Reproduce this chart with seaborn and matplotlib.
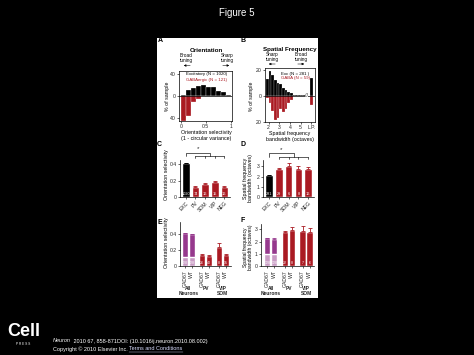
import matplotlib
matplotlib.use("Agg")
import matplotlib.pyplot as plt
import matplotlib.transforms as mtransforms
from matplotlib.patches import Rectangle, FancyArrowPatch
import pandas as pd
import seaborn as sns

W, H = 474, 355

# ---------------- data ----------------
# A: orientation selectivity histogram (bins of 0.1), % of sample
osi_left = [0.0, 0.1, 0.2, 0.3, 0.4, 0.5, 0.6, 0.7, 0.8, 0.9]
osi_exc = [2, 11, 14, 19, 20, 17, 16, 9, 8, 2]
osi_gaba = [46, 36, 11, 6, 0, 0, 0, 0, 0, 0]

# B: spatial frequency bandwidth histogram (bins of 0.25 octaves)
sfb_left = [1.75, 2.0, 2.25, 2.5, 2.75, 3.0, 3.25, 3.5, 3.75, 4.0, 4.25, 4.5, 4.75, 5.0, 5.25]
sfb_exc = [13, 19, 16, 12, 10, 9, 6, 4.5, 3, 2, 1, 1, 0.5, 1, 0.5]
sfb_gaba = [2, 5.5, 12, 19, 17, 10, 12.5, 10, 5.5, 3, 0, 0, 0, 0, 0]
lp_pos = 6.0
lp_exc = 13.5
lp_gaba = 7

# C / D: means per cell type
cell_types = ["EXC", "PV", "SOM", "VIP", "NEG"]
osi_mean = [0.41, 0.12, 0.155, 0.18, 0.12]
osi_err = [0.005, 0.01, 0.02, 0.02, 0.01]
osi_n = ["1020", "74", "16", "15", "16"]
bw_mean = [2.15, 2.75, 2.98, 2.75, 2.75]
bw_err = [0.03, 0.1, 0.3, 0.25, 0.15]
bw_n = ["281", "29", "6", "8", "16"]

# E / F: GAD67-GFP vs WT
groups = ["All\nNeurons", "PV", "VIP\nSOM"]
genotypes = ["GAD67", "WT"]
e_osi = {"GAD67": [0.41, 0.135, 0.235], "WT": [0.395, 0.13, 0.135]}
e_err = {"GAD67": [0.004, 0.01, 0.045], "WT": [0.004, 0.01, 0.015]}
e_n = {"GAD67": ["128", "26", "8"], "WT": ["128", "40", "15"]}
f_bw = {"GAD67": [2.27, 2.75, 2.9], "WT": [2.25, 2.97, 2.8]}
f_err = {"GAD67": [0.03, 0.12, 0.35], "WT": [0.03, 0.2, 0.3]}
f_n = {"GAD67": ["128", "22", "7"], "WT": ["128", "8", "6"]}

BLACK = "#000000"
RED = "#aa1a22"
PURPLE = "#96398d"
LPURPLE = "#c99bc4"

sns.set_style("ticks")
plt.rcParams["font.family"] = ["Liberation Sans", "DejaVu Sans"]
plt.rcParams.update({
    "axes.linewidth": 0.5,
    "xtick.major.width": 0.5, "ytick.major.width": 0.5,
    "xtick.major.size": 1.5, "ytick.major.size": 1.5,
    "xtick.major.pad": 1, "ytick.major.pad": 1,
    "xtick.labelsize": 3.7, "ytick.labelsize": 3.7,
    "axes.edgecolor": "black",
})

fig = plt.figure(figsize=(W / 100, H / 100), dpi=100, facecolor="black")


def pax(x0, y0, x1, y1):
    ax = fig.add_axes([x0 / W, 1 - y1 / H, (x1 - x0) / W, (y1 - y0) / H])
    ax.set_facecolor("white")
    return ax


def ftext(x, y, s, **kw):
    kw.setdefault("color", "black")
    kw.setdefault("ha", "center")
    kw.setdefault("va", "center")
    return fig.text(x / W, 1 - y / H, s, **kw)


def farrow(x0, x1, y):
    fig.add_artist(FancyArrowPatch((x0 / W, 1 - y / H), (x1 / W, 1 - y / H),
                                   transform=fig.transFigure, arrowstyle="-|>",
                                   mutation_scale=3, lw=0.4, color="black",
                                   linestyle=(0, (1, 0.6))))


# white figure panel
fig.add_artist(Rectangle((157 / W, 1 - 298 / H), (318 - 157) / W, (298 - 38) / H,
                         transform=fig.transFigure, facecolor="white",
                         edgecolor="none", zorder=-1))

ftext(237, 13, "Figure 5", color="white", fontsize=7)

# ---------------- A ----------------
axA = pax(179, 71, 232, 121)
axA.bar(osi_left, osi_exc, width=0.1, align="edge", color=BLACK, edgecolor="white", lw=0.2)
axA.bar(osi_left, [-v for v in osi_gaba], width=0.1, align="edge", color=RED, edgecolor="white", lw=0.2)
axA.axhline(0, color="black", lw=0.5)
axA.set_xlim(-0.034, 1.026)
axA.set_ylim(-45.5, 45.5)
axA.set_yticks([-40, 0, 40], ["40", "0", "40"])
axA.set_xticks([0, 0.5, 1], ["0", "0.5", "1"])
ftext(158, 41, "A", fontsize=5, fontweight="bold", ha="left")
ftext(206, 50, "Orientation", fontsize=4.5, fontweight="bold")
ftext(186, 58, "Broad\ntuning", fontsize=3.4, linespacing=1.1)
ftext(227, 58, "Sharp\ntuning", fontsize=3.4, linespacing=1.1)
farrow(193, 181, 65.5)
farrow(220, 232, 65.5)
ftext(186.5, 74.5, "Excitatory (N = 1020)", fontsize=3.2, ha="left")
ftext(186.5, 79.5, "GABAergic (N = 121)", fontsize=3.2, ha="left", color=RED)
ftext(167, 96, "% of sample", fontsize=3.8, rotation=90)
ftext(206, 133, "Orientation selectivity", fontsize=3.8)
ftext(206, 139, "(1 - circular variance)", fontsize=3.8)

# ---------------- B ----------------
axB = pax(265, 68, 315, 122)
axB.bar(sfb_left, sfb_exc, width=0.25, align="edge", color=BLACK, edgecolor="white", lw=0.15)
axB.bar(sfb_left, [-v for v in sfb_gaba], width=0.25, align="edge", color=RED, edgecolor="white", lw=0.15)
axB.bar([lp_pos], [lp_exc], width=0.3, color=BLACK, edgecolor="white", lw=0.15)
axB.bar([lp_pos], [-lp_gaba], width=0.3, color=RED, edgecolor="white", lw=0.15)
axB.axhline(0, color="black", lw=0.5)
axB.text(5.55, 0, "//", fontsize=4, ha="center", va="center",
         bbox=dict(facecolor="white", edgecolor="none", pad=0.1))
axB.set_xlim(1.653, 6.34)
axB.set_ylim(-20.2, 21.5)
axB.set_yticks([-20, 0, 20], ["20", "0", "20"])
axB.set_xticks([2, 3, 4, 5, 6], ["2", "3", "4", "5", "L.P."])
ftext(240, 41, "B", fontsize=5, fontweight="bold", ha="left")
ftext(290, 50, "Spatial Frequency", fontsize=4.5, fontweight="bold")
ftext(272, 57, "Sharp\ntuning", fontsize=3.4, linespacing=1.1)
ftext(301, 57, "Broad\ntuning", fontsize=3.4, linespacing=1.1)
farrow(278, 266, 64)
farrow(295, 307, 64)
ftext(281, 74, "Exc (N = 281 )", fontsize=3.2, ha="left")
ftext(281, 78.5, "GABA (N = 59)", fontsize=3.2, ha="left", color=RED)
ftext(251, 96, "% of sample", fontsize=3.8, rotation=90)
ftext(290, 133.5, "Spatial frequency", fontsize=3.8)
ftext(290, 139.5, "bandwidth (octaves)", fontsize=3.8)


# ---------------- C / D ----------------
def type_bars(ax, means, errs, ns, ylim, ticks, ticklabels, b_top, b_mid, b_tick, star_y):
    pal = [BLACK] + [RED] * 4
    sns.barplot(x=cell_types, y=means, hue=cell_types, palette=pal, legend=False,
                width=0.78, saturation=1, ax=ax)
    for i, (m, e) in enumerate(zip(means, errs)):
        ax.errorbar(i, m, yerr=[[0], [e]], fmt="none", ecolor=pal[i],
                    elinewidth=0.6, capsize=1.2, capthick=0.6)
        ax.text(i, ylim[1] * 0.025, ns[i], color="white", fontsize=2.8,
                ha="center", va="bottom")
    ax.set_ylim(*ylim)
    ax.set_yticks(ticks, ticklabels)
    ax.set_xlim(-0.6, 4.58)
    ax.tick_params(axis="x", rotation=45)
    for lab in ax.get_xticklabels():
        lab.set_ha("right")
        lab.set_rotation_mode("anchor")
    ax.set_xlabel("")
    sns.despine(ax=ax)
    kw = dict(color="black", lw=0.45, clip_on=False)
    ax.plot([0, 0, 2.5, 2.5], [b_mid, b_top, b_top, b_mid], **kw)
    ax.plot([1, 4], [b_mid, b_mid], **kw)
    for i in range(1, 5):
        ax.plot([i, i], [b_mid, b_tick], **kw)
    ax.text(1.25, star_y, "*", fontsize=4.5, ha="center", va="center")


axC = pax(180, 160, 230, 197)
type_bars(axC, osi_mean, osi_err, osi_n, (0, 0.45), [0, 0.2, 0.4], ["0", "0.2", "0.4"],
          0.54, 0.50, 0.47, 0.585)
ftext(157, 145, "C", fontsize=5, fontweight="bold", ha="left")
ftext(166.5, 175, "Orientation selectivity", fontsize=3.8, rotation=90)

axD = pax(263, 160, 314, 197.3)
type_bars(axD, bw_mean, bw_err, bw_n, (0, 3.6), [0, 1, 2, 3], ["0", "1", "2", "3"],
          4.27, 3.9, 3.65, 4.65)
ftext(240, 145, "D", fontsize=5, fontweight="bold", ha="left")
ftext(248, 178, "Spatial frequency\nbandwidth (octaves)", fontsize=3.8, rotation=90,
      linespacing=1.1)


# ---------------- E / F ----------------
def geno_bars(ax, vals, errs, ns, light_h, ylim, ticks, ticklabels, xlim):
    df = pd.DataFrame({
        "group": groups * 2,
        "genotype": [g for g in genotypes for _ in groups],
        "value": vals["GAD67"] + vals["WT"],
    })
    sns.barplot(data=df, x="group", y="value", hue="genotype", order=groups,
                hue_order=genotypes, palette=[RED, RED], legend=False,
                width=0.8, gap=0.12, saturation=1, errorbar=None, ax=ax)
    bar_conts = list(ax.containers)[:len(genotypes)]
    marks = []
    for gi, cont in enumerate(bar_conts):
        g = genotypes[gi]
        for k, bar in enumerate(cont):
            x = bar.get_x() + bar.get_width() / 2
            col = PURPLE if k == 0 else RED
            bar.set_facecolor(col)
            marks.append((x, g, k, col, bar.get_width()))
    for x, g, k, col, w in marks:
        if k == 0:
            ax.bar([x], [light_h], width=w, color=LPURPLE, zorder=2.5)
        ax.errorbar(x, vals[g][k], yerr=[[0], [errs[g][k]]], fmt="none",
                    ecolor=col, elinewidth=0.6, capsize=1.2, capthick=0.6, zorder=3)
        ax.text(x, ylim[1] * 0.03, ns[g][k], color="white", fontsize=2.6,
                ha="center", va="bottom", zorder=4)
    ax.set_xticks([m[0] for m in marks], [m[1] for m in marks], rotation=90)
    ax.set_xlabel("")
    ax.set_ylabel("")
    ax.set_ylim(*ylim)
    ax.set_yticks(ticks, ticklabels)
    ax.set_xlim(*xlim)
    sns.despine(ax=ax)
    tr = mtransforms.blended_transform_factory(ax.transData, fig.transFigure)
    for i, g in enumerate(groups):
        ax.text(i, 1 - 285.5 / H, g, transform=tr, fontsize=3.5, fontweight="bold",
                ha="center", va="top", linespacing=1.2)


axE = pax(180, 221.7, 231, 266.3)
geno_bars(axE, e_osi, e_err, e_n, 0.12, (0, 0.547), [0, 0.2, 0.4], ["0", "0.2", "0.4"],
          (-0.49, 2.5))
ftext(157, 222, "E", fontsize=5, fontweight="bold", ha="left")
ftext(166.5, 243, "Orientation selectivity", fontsize=3.8, rotation=90)

axF = pax(261.3, 223.7, 314, 266.3)
geno_bars(axF, f_bw, f_err, f_n, 1.0, (0, 3.46), [0, 1, 2, 3], ["0", "1", "2", "3"],
          (-0.54, 2.45))
ftext(240, 221, "F", fontsize=5, fontweight="bold", ha="left")
ftext(248, 247, "Spatial frequency\nbandwidth (octaves)", fontsize=3.6, rotation=90,
      linespacing=1.1)

# ---------------- footer ----------------
ftext(7, 331, "Cell", color="white", fontsize=13, fontweight="bold", ha="left")
ftext(23, 344, "P R E S S", color="white", fontsize=2.3)
t1 = ftext(53, 341, "Neuron", color="white", fontsize=4, fontstyle="italic", ha="left")
t2 = ftext(53, 349, "Copyright \u00a9 2010 Elsevier Inc. ", color="white", fontsize=4, ha="left")
fig.canvas.draw()
r = fig.canvas.get_renderer()
e1 = t1.get_window_extent(r)
fig.text(e1.x1 / W + 0.002, 1 - 341 / H, " 2010 67, 858-871DOI: (10.1016/j.neuron.2010.08.002)",
         color="white", fontsize=4, ha="left", va="center")
e2 = t2.get_window_extent(r)
t3 = fig.text(e2.x1 / W, 1 - 349 / H, "Terms and Conditions", color="#d8dcff",
              fontsize=4, ha="left", va="center")
fig.canvas.draw()
e3 = t3.get_window_extent(r)
fig.add_artist(plt.Line2D([e3.x0 / W, e3.x1 / W], [e3.y0 / H, e3.y0 / H],
                          transform=fig.transFigure, color="#d8dcff", lw=0.3))

fig.savefig("out.png", dpi=100, facecolor="black")
